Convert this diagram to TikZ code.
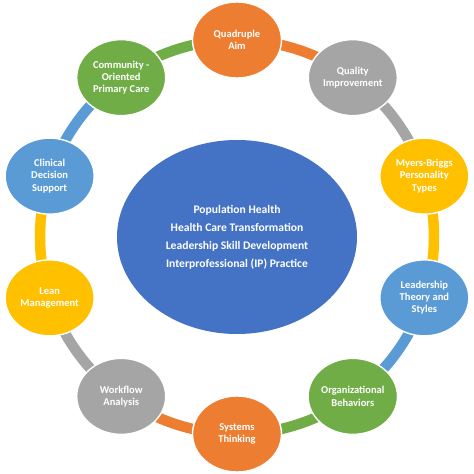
\documentclass[tikz,border=0pt]{standalone}
\usepackage{fontspec}
\setmainfont{Carlito}
\usetikzlibrary{shapes.geometric,backgrounds}
\definecolor{cOrange}{HTML}{ED7D31}
\definecolor{cGray}{HTML}{A5A5A5}
\definecolor{cYellow}{HTML}{FFC000}
\definecolor{cBlue}{HTML}{5B9BD5}
\definecolor{cGreen}{HTML}{70AD47}
\definecolor{cDark}{HTML}{4472C4}
\tikzset{
  topic/.style={ellipse, draw=white, line width=1.4pt, fill=#1, minimum width=89pt, minimum height=76pt, inner sep=0pt, align=center, text=white, font=\fontsize{10.5}{12.2}\selectfont\bfseries},
  hub/.style={ellipse, fill=cDark, minimum width=240pt, minimum height=194pt, inner sep=0pt, align=center, text=white, font=\fontsize{11.6}{18}\selectfont\bfseries},
  link/.style={line width=10.5pt, draw=#1}
}
\begin{document}
\begin{tikzpicture}[x=1pt,y=1pt]
\useasboundingbox (-237,-237) rectangle (237,237);
\node[hub] (hub) at (0,0) {Population Health\\Health Care Transformation\\Leadership Skill Development\\Interprofessional (IP) Practice};
\node[topic=cOrange] (n1) at (90:197) {Quadruple\\Aim};
\node[topic=cGray] (n2) at (54:197) {Quality\\Improvement};
\node[topic=cYellow] (n3) at (18:197) {Myers-Briggs\\Personality\\Types};
\node[topic=cBlue] (n4) at (-18:197) {Leadership\\Theory and\\Styles};
\node[topic=cGreen] (n5) at (-54:197) {Organizational\\Behaviors};
\node[topic=cOrange] (n6) at (-90:197) {Systems\\Thinking};
\node[topic=cGray] (n7) at (-126:197) {Workflow\\Analysis};
\node[topic=cYellow] (n8) at (-162:197) {Lean\\Management};
\node[topic=cBlue] (n9) at (162:197) {Clinical\\Decision\\Support};
\node[topic=cGreen] (n10) at (126:197) {Community -\\Oriented\\Primary Care};
\begin{scope}[on background layer]
\draw[link=cOrange] (n1.center) arc[start angle=90, end angle=54, radius=197];
\draw[link=cGray] (n2.center) arc[start angle=54, end angle=18, radius=197];
\draw[link=cYellow] (n3.center) arc[start angle=18, end angle=-18, radius=197];
\draw[link=cBlue] (n4.center) arc[start angle=-18, end angle=-54, radius=197];
\draw[link=cGreen] (n5.center) arc[start angle=-54, end angle=-90, radius=197];
\draw[link=cOrange] (n6.center) arc[start angle=-90, end angle=-126, radius=197];
\draw[link=cGray] (n7.center) arc[start angle=-126, end angle=-162, radius=197];
\draw[link=cYellow] (n8.center) arc[start angle=-162, end angle=-198, radius=197];
\draw[link=cBlue] (n9.center) arc[start angle=162, end angle=126, radius=197];
\draw[link=cGreen] (n10.center) arc[start angle=126, end angle=90, radius=197];
\end{scope}
\end{tikzpicture}
\end{document}
